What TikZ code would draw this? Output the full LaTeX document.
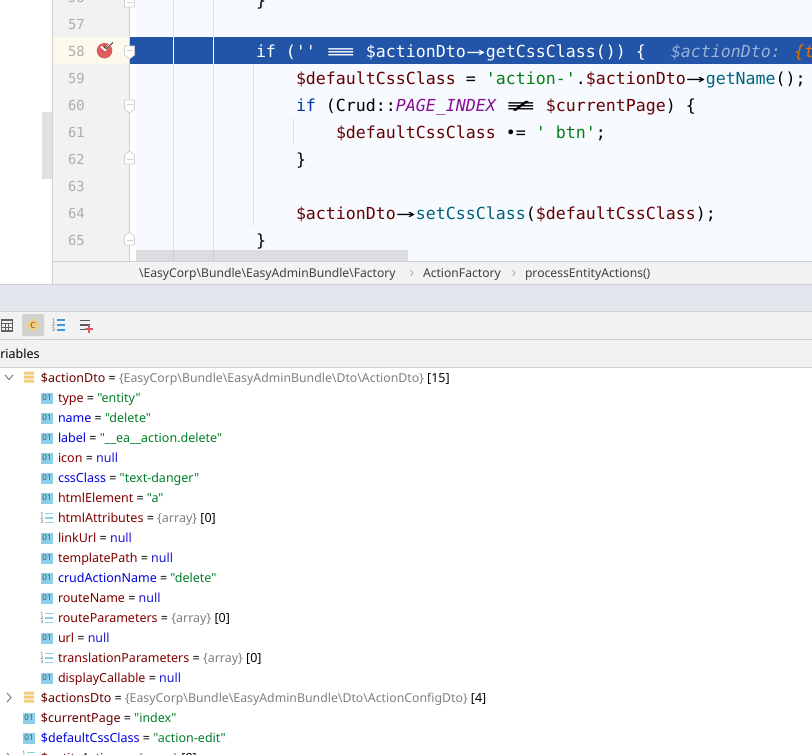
\documentclass[tikz,border=0pt]{standalone}
\usepackage{fontspec}
\usepackage{graphicx}
\setmonofont{DejaVu Sans Mono}
\setsansfont{Noto Sans}
\newfontfamily\codefont[Ligatures=NoCommon]{DejaVu Sans Mono}
\newfontfamily\uifont{Noto Sans}
\definecolor{edbg}{HTML}{F7FAFF}
\definecolor{guttr}{HTML}{F2F2F2}
\definecolor{guttrline}{HTML}{D0D0D0}
\definecolor{curbg}{HTML}{FCFAED}
\definecolor{hl}{HTML}{2255A8}
\definecolor{guide}{HTML}{E0E3E8}
\definecolor{vr}{HTML}{660000}
\definecolor{kw}{HTML}{0033B3}
\definecolor{mth}{HTML}{00627A}
\definecolor{strg}{HTML}{067D17}
\definecolor{cst}{HTML}{871094}
\definecolor{lnum}{HTML}{ADADAD}
\definecolor{panel}{HTML}{E1E5EC}
\definecolor{bar}{HTML}{F2F2F2}
\definecolor{sep}{HTML}{D1D1D1}
\definecolor{scroll}{HTML}{DCDCE0}
\definecolor{grayval}{HTML}{808080}
\definecolor{tagblue}{HTML}{8CCFE8}
\definecolor{tagtxt}{HTML}{4A5A63}
\definecolor{fieldblue}{HTML}{0000E0}
\definecolor{fieldred}{HTML}{800000}
\definecolor{nullblue}{HTML}{1A1AD0}
\definecolor{valgreen}{HTML}{00802A}
\definecolor{orangei}{HTML}{F5CB7E}
\definecolor{bp}{HTML}{DE5B60}
\definecolor{toolblue}{HTML}{3A9BDC}
\definecolor{toolred}{HTML}{DB5860}
\newcommand{\larr}{\makebox[20pt]{\scalebox{1.9}[1]{→}}}
\newcommand{\lequ}{\makebox[30pt]{\scalebox{2.9}[1]{≡}}}
\newcommand{\lneq}{\makebox[30pt]{\scalebox{2.9}[1]{≢}}}
\newcommand{\pth}[1]{\textcolor{grayval}{\fontsize{12.3}{14}\selectfont #1}}
\tikzset{
  x=1pt,y=-1pt,
  code/.style={anchor=base west,inner sep=0pt,outer sep=0pt,font=\codefont\fontsize{16.6}{18}\selectfont,text=black},
  lno/.style={anchor=base east,inner sep=0pt,font=\codefont\fontsize{13.8}{16}\selectfont,text=lnum},
  ui/.style={anchor=base west,inner sep=0pt,outer sep=0pt,font=\uifont\fontsize{12.5}{14}\selectfont,text=black},
  crumb/.style={anchor=base west,inner sep=0pt,outer sep=0pt,font=\uifont\fontsize{12.15}{14}\selectfont,text=black!75},
  foldm/.style={draw=guttrline,fill=white,line width=.7pt},
  tagbox/.style={fill=tagblue,draw=none,minimum width=12pt,minimum height=11pt,inner sep=0pt,text=tagtxt,font=\uifont\bfseries\fontsize{8}{8}\selectfont},
  listic/.style={draw=tagblue,line width=1.9pt},
  objic/.style={fill=orangei,draw=none},
  chev/.style={draw=black!55,line width=.9pt},
}
\newcommand{\rowtext}[3]{\node[ui] (#1) at (#2,#3+5) }
\newcommand{\tag}[3]{\node[tagbox] (#1) at (#2,#3+1) {01};}
\newcommand{\listicon}[2]{%
  \draw[listic] (#1-2,#2-4.5) -- ++(8,0) (#1-2,#2) -- ++(8,0) (#1-2,#2+4.5) -- ++(8,0);
  \node[font=\uifont\bfseries\fontsize{4.6}{4.6}\selectfont,inner sep=0pt,text=black!70,align=center] at (#1-5,#2) {1\\[-.3pt]2\\[-.3pt]3};}
\newcommand{\objicon}[2]{\fill[objic] (#1-5,#2-5.5) rectangle ++(10,3) (#1-5,#2-1.5) rectangle ++(10,3) (#1-5,#2+2.5) rectangle ++(10,3);}
\newcommand{\foldup}[2]{\draw[foldm] (#1-5,#2-3) -- (#1,#2-7) -- (#1+5,#2-3) -- (#1+5,#2+6) -- (#1-5,#2+6) -- cycle; \draw[guttrline,line width=.7pt] (#1-3,#2+1.5) -- (#1+3,#2+1.5);}
\newcommand{\folddn}[2]{\draw[foldm] (#1-5,#2-6) -- (#1+5,#2-6) -- (#1+5,#2+3) -- (#1,#2+7) -- (#1-5,#2+3) -- cycle; \draw[guttrline,line width=.7pt] (#1-3,#2-1.5) -- (#1+3,#2-1.5);}
\begin{document}
\begin{tikzpicture}
\useasboundingbox (0,0) rectangle (812,755);
\clip (0,0) rectangle (812,755);
\fill[white] (0,0) rectangle (812,755);
% editor
\fill[edbg] (136,0) rectangle (812,261);
\fill[guttr] (53,0) rectangle (130,261);
\fill[white] (130,0) rectangle (136,261);
\fill[black!12] (42,112) rectangle (53,179);
\draw[guttrline,line width=.7pt] (52.8,0) -- (52.8,284);
\draw[guttrline,line width=.7pt] (129.5,0) -- (129.5,261);
% current line
\fill[curbg] (53,37) rectangle (129,64);
\fill[hl] (130,37) rectangle (812,64);
% guides
\foreach \gx in {173.5,213.5}{\draw[guide,line width=.7pt] (\gx,0) -- (\gx,37); \draw[white,line width=.7pt] (\gx,37) -- (\gx,64); \draw[guide,line width=.7pt] (\gx,64) -- (\gx,261);}
\draw[guide,line width=.7pt] (253.5,64) -- (253.5,226);
\draw[guide,line width=.7pt] (293.5,118) -- (293.5,145);
% scroll bar
\fill[scroll] (136,250) rectangle (408,261);
\foreach \gx in {173.5,213.5}{\draw[guttrline,line width=.7pt] (\gx,250) -- (\gx,261);}
% line numbers
\foreach \n/\y in {56/2.5,57/29.5,58/56.5,59/83.5,60/110.5,61/137.5,62/164.5,63/191.5,64/218.5,65/245.5}{\node[lno] (ln\n) at (85,\y) {\n};}
% breakpoint
\fill[bp] (104.5,50.7) circle (7.8);
\draw[white,line width=1.8pt] (101,46.5) -- (105,50) -- (112,43);
\draw[black!70,line width=1.1pt] (103.5,46) -- (106.5,48.7) -- (113,42.5);
% folds
\folddn{129.5}{52}
\folddn{129.5}{106}
\foldup{129.5}{158}
\foldup{129.5}{239}
\foldup{129.5}{1}
% code
\node[code] (c56) at (256,6) {\}};
\node[code,text=white] (c58) at (256,57) {if ('' \lequ{} \$actionDto\larr getCssClass()) \{};
\node[code,text=white!55!hl] (c58b) at (671,57) {\itshape \$actionDto: \textcolor{orange!90!black}{\{text-danger}};
\node[code] (c59) at (296,84) {\textcolor{vr}{\$defaultCssClass} = \textcolor{strg}{'action-'}.\textcolor{vr}{\$actionDto}\larr\textcolor{mth}{getName}();};
\node[code] (c60) at (296,111) {\textcolor{kw}{if} (Crud::\textcolor{cst}{\itshape PAGE\_INDEX} \lneq{} \textcolor{vr}{\$currentPage}) \{};
\node[code] (c61) at (336,138) {\textcolor{vr}{\$defaultCssClass} •= \textcolor{strg}{' btn'};};
\node[code] (c62) at (296,165) {\}};
\node[code] (c64) at (296,219) {\textcolor{vr}{\$actionDto}\larr\textcolor{mth}{setCssClass}(\textcolor{vr}{\$defaultCssClass});};
\node[code] (c65) at (256,246) {\}};
% breadcrumb bar
\fill[bar] (53,261) rectangle (812,284);
\draw[sep,line width=.7pt] (53,261) -- (812,261);
\node[crumb] (b1) at (139,277) {\textbackslash EasyCorp\textbackslash Bundle\textbackslash EasyAdminBundle\textbackslash Factory};
\node[crumb] (b2) at (423,277) {ActionFactory};
\node[crumb] (b3) at (525,277) {processEntityActions()};
\draw[black!40,line width=.6pt] (410.5,270) -- (413,273) -- (410.5,276);
\draw[black!40,line width=.6pt] (512.5,270) -- (515,273) -- (512.5,276);
% panel header
\fill[panel] (0,285) rectangle (812,311);
\draw[sep,line width=.7pt] (0,284.5) -- (812,284.5);
\draw[sep,line width=.7pt] (0,311.5) -- (812,311.5);
% toolbar
\fill[bar] (0,312) rectangle (812,339);
\draw[sep,line width=.7pt] (0,339.5) -- (812,339.5);
\fill[black!18,rounded corners=1.5pt] (22,314) rectangle (44,336);
\draw[black!62,line width=1.3pt] (1.5,320) rectangle (12.5,331);
\draw[black!62,line width=1pt] (1.5,323.7) -- (12.5,323.7) (1.5,327.4) -- (12.5,327.4) (5.2,323.7) -- (5.2,331) (8.8,323.7) -- (8.8,331);
\fill[orangei] (33,318) -- (40,325) -- (33,332) -- (26,325) -- cycle;
\node[font=\uifont\bfseries\fontsize{8.5}{9}\selectfont,text=black!65,inner sep=0pt] (cic) at (33,325) {C};
\draw[toolblue,line width=2pt] (57,320) -- (65,320) (57,325) -- (65,325) (57,330) -- (65,330);
\node[font=\uifont\bfseries\fontsize{5}{5}\selectfont,inner sep=0pt,text=black!70,align=center] at (53.5,325) {1\\[-.5pt]2\\[-.5pt]3};
\draw[black!65,line width=1.3pt] (80,320.5) -- (90,320.5) (80,325) -- (90,325) (80,329.5) -- (85,329.5);
\draw[toolred,line width=1.8pt] (85,329) -- (93,329) (89,325) -- (89,333);
% variables header
\fill[bar] (0,340) rectangle (812,367);
\draw[sep,line width=.7pt] (0,367.5) -- (812,367.5);
\node[ui] (vars) at (-14,358) {Variables};
% rows
\draw[chev] (5,375) -- (9,379.5) -- (13,375);
\objicon{29}{377}
\rowtext{r0}{41}{377}{\textcolor{vr}{\$actionDto} = \pth{\{EasyCorp\textbackslash Bundle\textbackslash EasyAdminBundle\textbackslash Dto\textbackslash ActionDto\}} [15]};
\tag{t1}{47}{397}\rowtext{r1}{58}{397}{\textcolor{fieldred}{type} = \textcolor{valgreen}{"entity"}};
\tag{t2}{47}{417}\rowtext{r2}{58}{417}{\textcolor{fieldblue}{name} = \textcolor{valgreen}{"delete"}};
\tag{t3}{47}{437}\rowtext{r3}{58}{437}{\textcolor{fieldblue}{label} = \textcolor{valgreen}{"\_\_ea\_\_action.delete"}};
\tag{t4}{47}{457}\rowtext{r4}{58}{457}{\textcolor{fieldred}{icon} = \textcolor{nullblue}{null}};
\tag{t5}{47}{477}\rowtext{r5}{58}{477}{\textcolor{fieldblue}{cssClass} = \textcolor{valgreen}{"text-danger"}};
\tag{t6}{47}{497}\rowtext{r6}{58}{497}{\textcolor{fieldred}{htmlElement} = \textcolor{valgreen}{"a"}};
\listicon{47}{518}\rowtext{r7}{58}{517}{\textcolor{fieldred}{htmlAttributes} = \textcolor{grayval}{\{array\}} [0]};
\tag{t8}{47}{537}\rowtext{r8}{58}{537}{\textcolor{fieldred}{linkUrl} = \textcolor{nullblue}{null}};
\tag{t9}{47}{557}\rowtext{r9}{58}{557}{\textcolor{fieldred}{templatePath} = \textcolor{nullblue}{null}};
\tag{t10}{47}{577}\rowtext{r10}{58}{577}{\textcolor{fieldblue}{crudActionName} = \textcolor{valgreen}{"delete"}};
\tag{t11}{47}{597}\rowtext{r11}{58}{597}{\textcolor{fieldred}{routeName} = \textcolor{nullblue}{null}};
\listicon{47}{618}\rowtext{r12}{58}{617}{\textcolor{fieldred}{routeParameters} = \textcolor{grayval}{\{array\}} [0]};
\tag{t13}{47}{637}\rowtext{r13}{58}{637}{\textcolor{fieldred}{url} = \textcolor{nullblue}{null}};
\listicon{47}{658}\rowtext{r14}{58}{657}{\textcolor{fieldred}{translationParameters} = \textcolor{grayval}{\{array\}} [0]};
\tag{t15}{47}{677}\rowtext{r15}{58}{677}{\textcolor{fieldred}{displayCallable} = \textcolor{nullblue}{null}};
\draw[chev] (7,693) -- (11,697.5) -- (7,702);
\objicon{29}{697}
\rowtext{r16}{41}{697}{\textcolor{vr}{\$actionsDto} = \pth{\{EasyCorp\textbackslash Bundle\textbackslash EasyAdminBundle\textbackslash Dto\textbackslash ActionConfigDto\}} [4]};
\tag{t17}{29}{717}\rowtext{r17}{41}{717}{\textcolor{vr}{\$currentPage} = \textcolor{valgreen}{"index"}};
\tag{t18}{29}{737}\rowtext{r18}{41}{737}{\textcolor{fieldblue}{\$defaultCssClass} = \textcolor{valgreen}{"action-edit"}};
\draw[chev] (7,753) -- (11,757.5) -- (7,762);
\listicon{29}{757}\rowtext{r19}{41}{757}{\textcolor{vr}{\$entityActions} = \textcolor{grayval}{\{array\}} [8]};
\end{tikzpicture}
\end{document}
